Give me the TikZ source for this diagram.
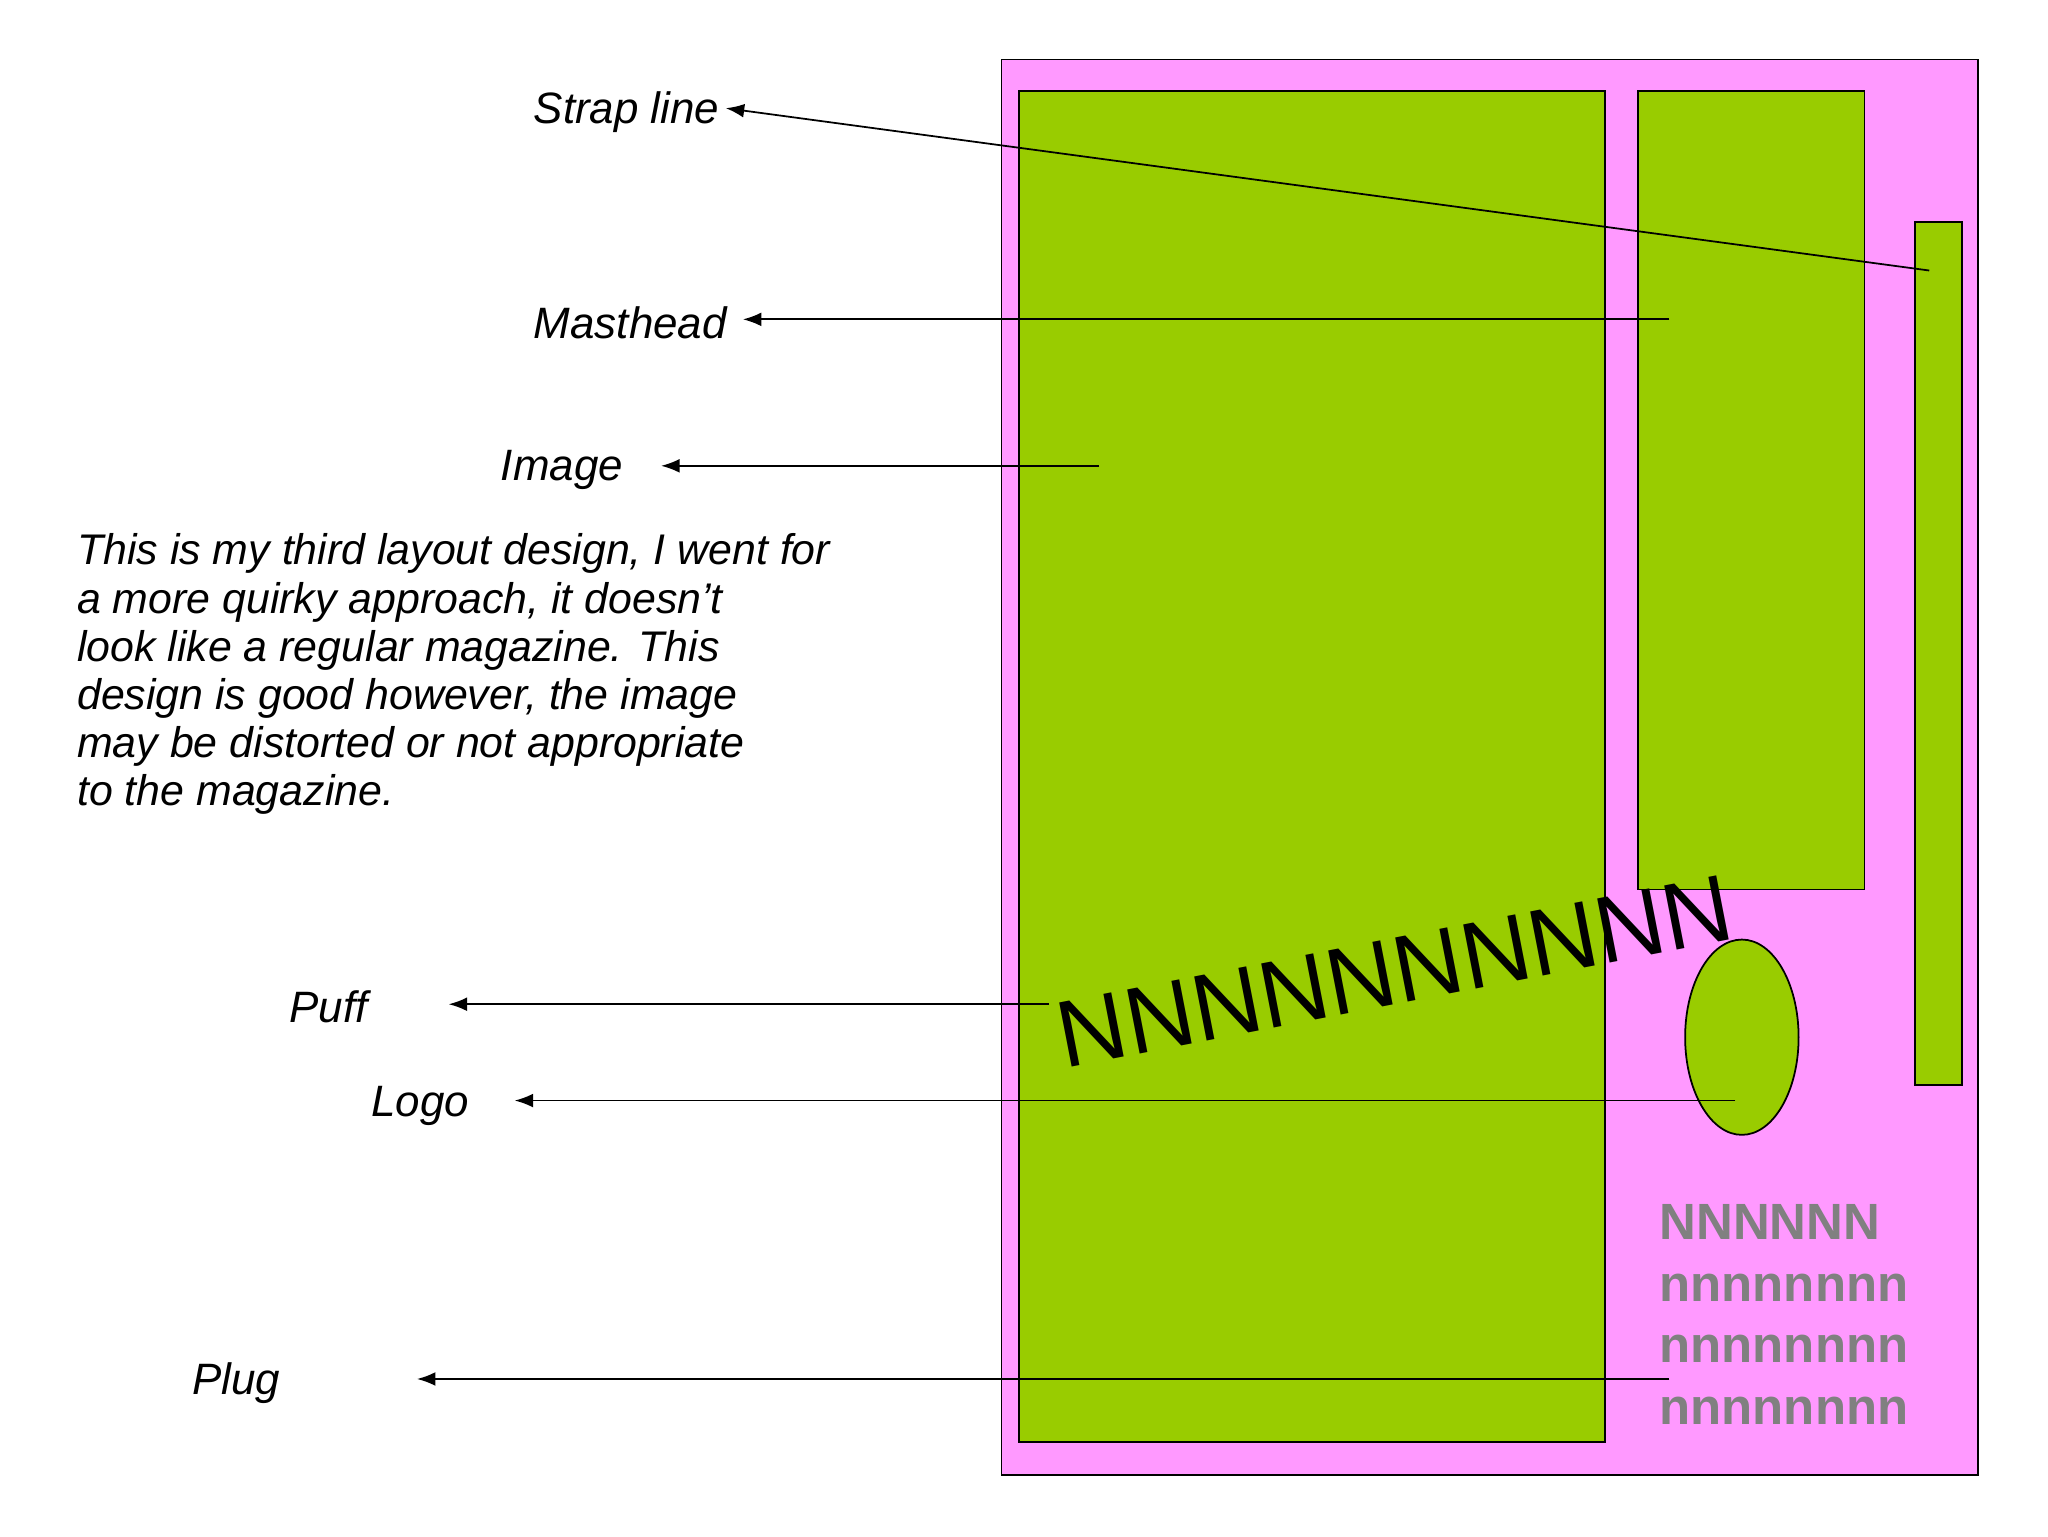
\documentclass[tikz,border=0pt]{standalone}
\usepackage{fontspec}
\setmainfont{Liberation Sans}
\usetikzlibrary{arrows.meta,positioning}
\begin{document}
\begin{tikzpicture}[x=0.0132cm, y=-0.0132cm, >=Latex,
    label/.style={font=\fontsize{12.5}{14}\selectfont\itshape, inner sep=0pt, anchor=west},
    box/.style={draw=black, fill=pageGreen, line width=0.5pt},
    pointer/.style={->, line width=0.5pt}]

    % colours
    \definecolor{pagePink}{RGB}{255,153,255}
    \definecolor{pageGreen}{RGB}{153,204,0}

    \useasboundingbox (0,0) rectangle (1552,1164);

    % === PAGE ===
    \draw[fill=pagePink, line width=0.5pt] (759,45) rectangle (1499,1118);
    \draw[box] (772,69) rectangle (1216,1093);
    \draw[box] (1241,69) rectangle (1413,674);
    \draw[box] (1451,168) rectangle (1487,822);
    \draw[box] (1320,786) ellipse (43 and 74);

    \node[font=\fontsize{27}{28}\selectfont, rotate=11, inner sep=0pt] (puffText) at (1057,736) {NNNNNNNNNN};
    \node[font=\fontsize{14.5}{17.6}\selectfont\bfseries, text=gray, align=left, anchor=north west, inner sep=0pt] (plugText) at (1257,912)
        {NNNNNN\\nnnnnnnn\\nnnnnnnn\\nnnnnnnn};

    % === LABELS ===
    \node[label] (strapLbl) at (404,85) {Strap line};
    \node[label] (mastLbl) at (404,245) {Masthead};
    \node[label] (imageLbl) at (379,356) {Image};
    \node[label] (puffLbl) at (219,763) {Puff};
    \node[label] (logoLbl) at (281,838) {Logo};
    \node[label] (plugLbl) at (145,1048) {Plug};

    \node[label, anchor=north west, align=left, font=\fontsize{12.2}{13.7}\selectfont\itshape] (note) at (58,404)
        {This is my third layout design, I went for\\
         a more quirky approach, it doesn't\\
         look like a regular magazine. This\\
         design is good however, the image\\
         may be distorted or not appropriate\\
         to the magazine.};

    % === ARROWS ===
    \coordinate (strapPt) at (1462,205);
    \coordinate (mastPt) at (1265,242);
    \coordinate (imagePt) at (833,353);
    \coordinate (puffPt) at (795,761);
    \coordinate (logoPt) at (1315,834);
    \coordinate (plugPt) at (1265,1045);
    \coordinate (strapEnd) at (550,82);
    \coordinate (mastEnd) at (563,242);
    \coordinate (imageEnd) at (501,353);
    \coordinate (puffEnd) at (340,761);
    \coordinate (logoEnd) at (390,834);
    \coordinate (plugEnd) at (316,1045);
    \foreach \n in {strap,mast,image,puff,logo,plug}
        \draw[pointer] (\n Pt) -- (\n End);

\end{tikzpicture}
\end{document}
